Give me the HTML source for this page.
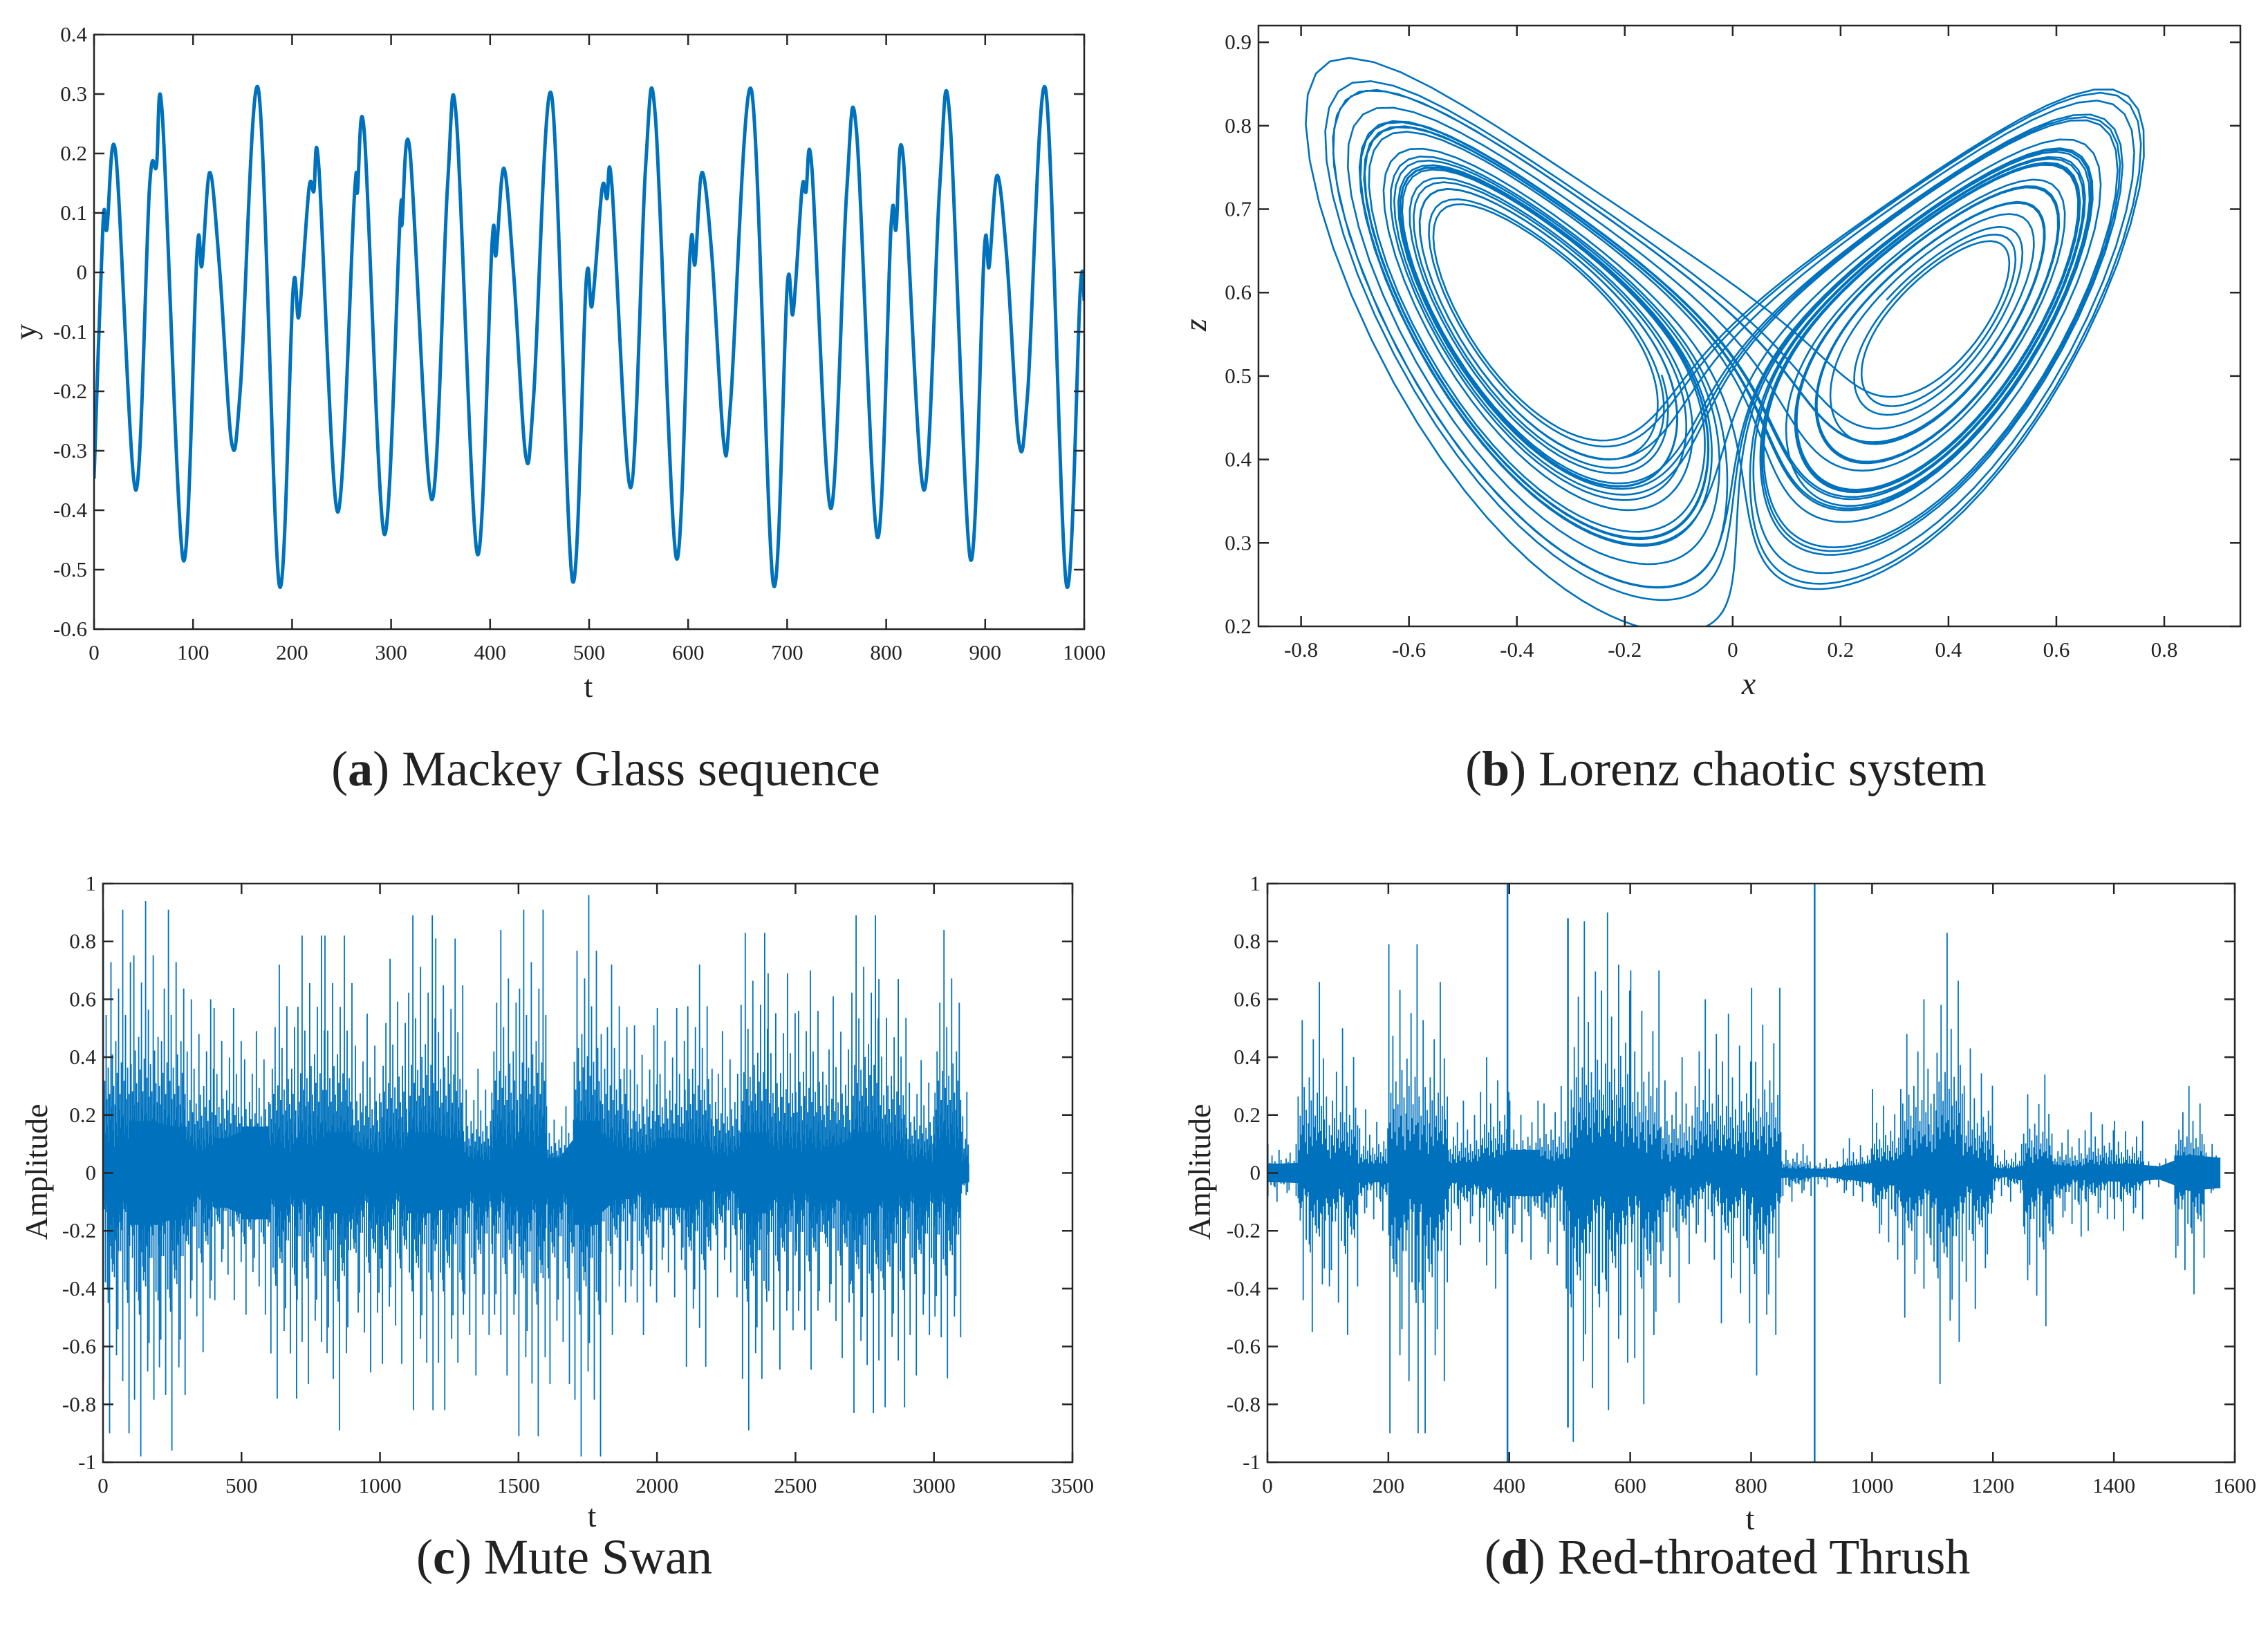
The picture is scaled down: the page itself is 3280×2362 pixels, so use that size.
<!DOCTYPE html>
<html><head><meta charset="utf-8"><title>Four time series panels</title>
<style>
html,body{margin:0;padding:0;background:#fff;}
svg{display:block;}
text{font-family:"Liberation Serif","DejaVu Serif",serif;fill:#222;}
</style></head>
<body>
<svg id="fig" xmlns="http://www.w3.org/2000/svg" width="3280" height="2362" viewBox="0 0 3280 2362">
<rect width="3280" height="2362" fill="#fff"/>
<defs>
<clipPath id="clipA"><rect x="136" y="50" width="1432" height="860"/></clipPath>
<clipPath id="clipB"><rect x="1820" y="37" width="1420" height="869"/></clipPath>
<clipPath id="clipC"><rect x="149" y="1278" width="1402" height="837"/></clipPath>
<clipPath id="clipD"><rect x="1833" y="1278" width="1399" height="837"/></clipPath>
</defs>
<g id="panelA"></g>
<g id="panelB"></g>
<g id="panelC"></g>
<g id="panelD"></g>
<text x="876" y="1136" text-anchor="middle" font-size="72">(<tspan font-weight="bold">a</tspan>) Mackey Glass sequence</text>
<text x="2496" y="1136" text-anchor="middle" font-size="72">(<tspan font-weight="bold">b</tspan>) Lorenz chaotic system</text>
<text x="816" y="2276" text-anchor="middle" font-size="72">(<tspan font-weight="bold">c</tspan>) Mute Swan</text>
<text x="2498" y="2276" text-anchor="middle" font-size="72">(<tspan font-weight="bold">d</tspan>) Red-throated Thrush</text>
</svg>
<script>
// ---- Panel A data (Mackey-Glass) ----
const MG_T=[0,9,13,22,42,56,63,69,90,104,109,117,127,139,148,166,187,201,207,217,222,227,246,263,266,273,293,309,311,319,341,357,366,387,402,406,414,424,436,444,462,483,497,503,513,518,523,542,557,567,588,602,607,614,624,636,643,664,686,700,706,715,719,725,744,760,770,791,805,810,817,838,854,864,885,899,904,912,922,934,943,961,982,996,1000];
const MG_Y=[-0.347,0.08,0.073,0.198,-0.366,0.142,0.178,0.264,-0.483,0.035,0.012,0.168,0.002,-0.287,-0.19,0.308,-0.525,-0.03,-0.073,0.14,0.136,0.178,-0.403,0.131,0.135,0.234,-0.44,0.089,0.081,0.205,-0.382,0.146,0.257,-0.473,0.05,0.03,0.175,-0.007,-0.309,-0.208,0.299,-0.517,-0.016,-0.055,0.14,0.124,0.146,-0.362,0.177,0.26,-0.48,0.035,0.015,0.168,0.028,-0.287,-0.216,0.306,-0.524,-0.025,-0.068,0.14,0.135,0.175,-0.397,0.133,0.238,-0.445,0.08,0.073,0.197,-0.366,0.143,0.266,-0.482,0.035,0.01,0.163,0.02,-0.285,-0.2,0.308,-0.525,-0.03,-0.047];
const A_XTICKS=[0,100,200,300,400,500,600,700,800,900,1000];
const A_YTICKS=[-0.6,-0.5,-0.4,-0.3,-0.2,-0.1,0,0.1,0.2,0.3,0.4];

// ---- Panel B data (Lorenz system parameters) ----
const LZ_PARAMS=[10,28,8/3];
const LZ_START=[1,1,1];
const LZ_SKIP=[1200];
const LZ_STEPS=[3700];
const LZ_DT=[0.01];
const LZ_SCALE_X=[0.044,0.01];
const LZ_SCALE_Z=[0.0172,0.105];
const B_XTICKS=[-0.8,-0.6,-0.4,-0.2,0,0.2,0.4,0.6,0.8];
const B_YTICKS=[0.2,0.3,0.4,0.5,0.6,0.7,0.8,0.9];

// ---- Panel C data (Mute Swan envelope per 100 t) ----
const C_UP=[0.91,0.94,0.91,0.6,0.57,0.49,0.72,0.82,0.82,0.55,0.74,0.89,0.81,0.36,0.84,0.91,0.23,0.96,0.72,0.51,0.57,0.72,0.49,0.83,0.69,0.7,0.61,0.89,0.67,0.39,0.84,0.28];
const C_DN=[-0.9,-0.98,-0.96,-0.62,-0.44,-0.49,-0.78,-0.73,-0.89,-0.69,-0.66,-0.82,-0.82,-0.7,-0.7,-0.91,-0.73,-0.98,-0.56,-0.56,-0.43,-0.67,-0.43,-0.89,-0.68,-0.68,-0.64,-0.83,-0.81,-0.7,-0.71,-0.11];
const C_CORE=[0.07,0.18,0.16,0.07,0.12,0.16,0.035,0.09,0.14,0.07,0.06,0.14,0.12,0.025,0.06,0.05,0.05,0.18,0.09,0.06,0.12,0.09,0.04,0.14,0.07,0.07,0.09,0.14,0.07,0.025,0.05,0.03];
const C_XTICKS=[0,500,1000,1500,2000,2500,3000,3500];
const AMP_TICKS=[-1,-0.8,-0.6,-0.4,-0.2,0,0.2,0.4,0.6,0.8,1];

// ---- Panel D data (Red-throated Thrush envelope per 50 t) ----
const D_UP=[0.1,0.66,0.5,0.22,0.79,0.66,0.25,0.4,0.25,0.3,0.87,0.9,0.7,0.4,0.6,0.55,0.64,0.1,0.05,0.12,0.29,0.6,0.83,0.43,0.1,0.34,0.15,0.21,0.18,0.05,0.3,0.1];
const D_DN=[-0.1,-0.55,-0.56,-0.2,-0.9,-0.9,-0.25,-0.4,-0.3,-0.4,-0.93,-0.82,-0.8,-0.45,-0.3,-0.52,-0.7,-0.1,-0.05,-0.1,-0.3,-0.5,-0.73,-0.47,-0.1,-0.53,-0.22,-0.2,-0.2,-0.05,-0.42,-0.1];
const D_CORE=[0.03,0.035,0.03,0.03,0.03,0.035,0.03,0.05,0.08,0.035,0.07,0.045,0.03,0.025,0.025,0.035,0.02,0.012,0.012,0.025,0.04,0.045,0.08,0.02,0.012,0.035,0.02,0.025,0.03,0.02,0.06,0.05];
const D_SPIKE_T=[397,497,905];
const D_SPIKE_UP=[1,0.88,1];
const D_SPIKE_DN=[-1,-0.88,-1];
const D_XTICKS=[0,200,400,600,800,1000,1200,1400,1600];

const NS='http://www.w3.org/2000/svg';
const BLUE='#0072BD';
function mk(tag,attrs,parent){const e=document.createElementNS(NS,tag);for(const k in attrs)e.setAttribute(k,attrs[k]);if(parent)parent.appendChild(e);return e;}
function scale(d0,d1,r0,r1){return v=>r0+(v-d0)/(d1-d0)*(r1-r0);}
function fmt(v){return String(Math.round(v*1000)/1000);}

function frame(g,box,sx,sy,xt,yt){
  const fr=mk('rect',{x:box.L,y:box.T,width:box.R-box.L,height:box.B-box.T,fill:'none',stroke:'#262626','stroke-width':2.5},g);
  
  
  let d='';
  xt.forEach(v=>{const x=sx(v);d+=`M${x} ${box.B}V${box.B-15}M${x} ${box.T}V${box.T+15}`;});
  yt.forEach(v=>{const y=sy(v);d+=`M${box.L} ${y}H${box.L+15}M${box.R} ${y}H${box.R-15}`;});
  const tk=mk('path',{d:d,stroke:'#262626','stroke-width':2.5,fill:'none'},g);
  
  
  xt.forEach(v=>{const t=mk('text',{x:sx(v),y:box.B+44,'text-anchor':'middle','font-size':31},g);t.textContent=fmt(v);
    
    });
  yt.forEach(v=>{const t=mk('text',{x:box.L-10,y:sy(v)+10,'text-anchor':'end','font-size':31},g);t.textContent=fmt(v);
    
    });
}
function axisLabels(g,xl,xx,xy,yl,yx,yy,italic){
  const a=mk('text',{x:xx,y:xy,'text-anchor':'middle','font-size':46,'font-style':italic?'italic':'normal'},g);a.textContent=xl;
  
  
  const b=mk('text',{x:yx,y:yy,'text-anchor':'middle','font-size':46,'font-style':italic?'italic':'normal',transform:`rotate(-90 ${yx} ${yy})`},g);b.textContent=yl;
  
  
}

// ---- Panel A ----
(function(){
  const g=document.getElementById('panelA');
  const box={L:136,T:50,R:1568,B:910};
  const sx=scale(0,1000,box.L,box.R), sy=scale(-0.6,0.4,box.B,box.T);
  const P=MG_T.map((t,i)=>[sx(t),sy(MG_Y[i])]);
  let d=`M${P[0][0]} ${P[0][1]}`;
  for(let i=0;i<P.length-1;i++){
    const p0=P[Math.max(0,i-1)],p1=P[i],p2=P[i+1],p3=P[Math.min(P.length-1,i+2)];
    const c1=[p1[0]+(p2[0]-p0[0])/6,p1[1]+(p2[1]-p0[1])/6];
    const c2=[p2[0]-(p3[0]-p1[0])/6,p2[1]-(p3[1]-p1[1])/6];
    d+=`C${c1[0]} ${c1[1]} ${c2[0]} ${c2[1]} ${p2[0]} ${p2[1]}`;
  }
  const line=mk('path',{d:d,fill:'none',stroke:BLUE,'stroke-width':5,'stroke-linejoin':'round','clip-path':'url(#clipA)'},g);
  
  
  frame(g,box,sx,sy,A_XTICKS,A_YTICKS);
  axisLabels(g,'t',851,1008,'y',52,480,false);
})();

// ---- Panel B ----
(function(){
  const g=document.getElementById('panelB');
  const box={L:1820,T:37,R:3240,B:906};
  const sx=scale(-0.879,0.941,box.L,box.R), sy=scale(0.2,0.92,box.B,box.T);
  const [s,r,b]=LZ_PARAMS; let [x,y,z]=LZ_START; const h=LZ_DT[0];
  const f=(x,y,z)=>[s*(y-x),x*(r-z)-y,x*y-b*z];
  let d='';
  for(let i=0;i<LZ_SKIP[0]+LZ_STEPS[0];i++){
    const k1=f(x,y,z),k2=f(x+h/2*k1[0],y+h/2*k1[1],z+h/2*k1[2]),k3=f(x+h/2*k2[0],y+h/2*k2[1],z+h/2*k2[2]),k4=f(x+h*k3[0],y+h*k3[1],z+h*k3[2]);
    x+=h/6*(k1[0]+2*k2[0]+2*k3[0]+k4[0]);y+=h/6*(k1[1]+2*k2[1]+2*k3[1]+k4[1]);z+=h/6*(k1[2]+2*k2[2]+2*k3[2]+k4[2]);
    if(i<LZ_SKIP[0]) continue;
    const px=sx(LZ_SCALE_X[0]*x+LZ_SCALE_X[1]), py=sy(LZ_SCALE_Z[0]*z+LZ_SCALE_Z[1]);
    d+=(d?'L':'M')+px.toFixed(1)+' '+py.toFixed(1);
  }
  const line=mk('path',{d:d,fill:'none',stroke:BLUE,'stroke-width':2.6,'clip-path':'url(#clipB)'},g);
  
  
  frame(g,box,sx,sy,B_XTICKS,B_YTICKS);
  axisLabels(g,'x',2529,1004,'z',1744,470,true);
})();

// ---- audio drawing ----
const PAT=[1,0.22,0.35,0.15,0.6,0.28,0.18,0.4,0.12,0.3,0.2,0.8,0.25,0.45,0.16,0.33,0.1,0.26,0.5,0.19,0.38,0.14,0.7,0.24,0.3,0.17,0.42,0.21];
function audio(g,box,sx,sy,step,UP,DN,CORE,nPer,clip,tEnd){
  let d='';
  for(let i=0;i<UP.length;i++){
    for(let k=0;k<nPer;k++){
      const t=i*step+(k+0.5)*step/nPer; if(t>tEnd) break;
      const fu=PAT[(k+i*7)%PAT.length], fd=PAT[(k*5+i*3+11)%PAT.length];
      const top=Math.max(CORE[i],UP[i]*fu), bot=Math.min(-CORE[i],DN[i]*fd);
      const x=sx(t).toFixed(1);
      d+=`M${x} ${sy(top).toFixed(1)}V${sy(bot).toFixed(1)}`;
    }
  }
  const sp=mk('path',{d:d,stroke:BLUE,'stroke-width':1.8,fill:'none','clip-path':clip},g);
  
  
  let up='',dn='';
  for(let i=0;i<CORE.length;i++){
    const t=Math.min(tEnd,(i+0.5)*step);
    up+='L'+sx(t).toFixed(1)+' '+sy(CORE[i]).toFixed(1);
  }
  for(let i=CORE.length-1;i>=0;i--){
    const t=Math.min(tEnd,(i+0.5)*step);
    dn+='L'+sx(t).toFixed(1)+' '+sy(-CORE[i]).toFixed(1);
  }
  const core=mk('path',{d:`M${sx(0)} ${sy(CORE[0])}`+up+`L${sx(tEnd)} ${sy(CORE[CORE.length-1])}L${sx(tEnd)} ${sy(-CORE[CORE.length-1])}`+dn+`L${sx(0)} ${sy(-CORE[0])}Z`,fill:BLUE,stroke:BLUE,'stroke-width':2,'clip-path':clip},g);
  
  
}

// ---- Panel C ----
(function(){
  const g=document.getElementById('panelC');
  const box={L:149,T:1278,R:1551,B:2115};
  const sx=scale(0,3500,box.L,box.R), sy=scale(-1,1,box.B,box.T);
  audio(g,box,sx,sy,100,C_UP,C_DN,C_CORE,40,'url(#clipC)',3125);
  frame(g,box,sx,sy,C_XTICKS,AMP_TICKS);
  axisLabels(g,'t',856,2208,'Amplitude',68,1695,false);
})();

// ---- Panel D ----
(function(){
  const g=document.getElementById('panelD');
  const box={L:1833,T:1278,R:3232,B:2115};
  const sx=scale(0,1600,box.L,box.R), sy=scale(-1,1,box.B,box.T);
  audio(g,box,sx,sy,50,D_UP,D_DN,D_CORE,30,'url(#clipD)',1575);
  let d='';
  D_SPIKE_T.forEach((t,i)=>{d+=`M${sx(t)} ${sy(D_SPIKE_UP[i])}V${sy(D_SPIKE_DN[i])}`;});
  const s=mk('path',{d:d,stroke:BLUE,'stroke-width':2.5,'clip-path':'url(#clipD)'},g);
  
  
  frame(g,box,sx,sy,D_XTICKS,AMP_TICKS);
  axisLabels(g,'t',2531,2212,'Amplitude',1750,1695,false);
})();
</script>
</body></html>
